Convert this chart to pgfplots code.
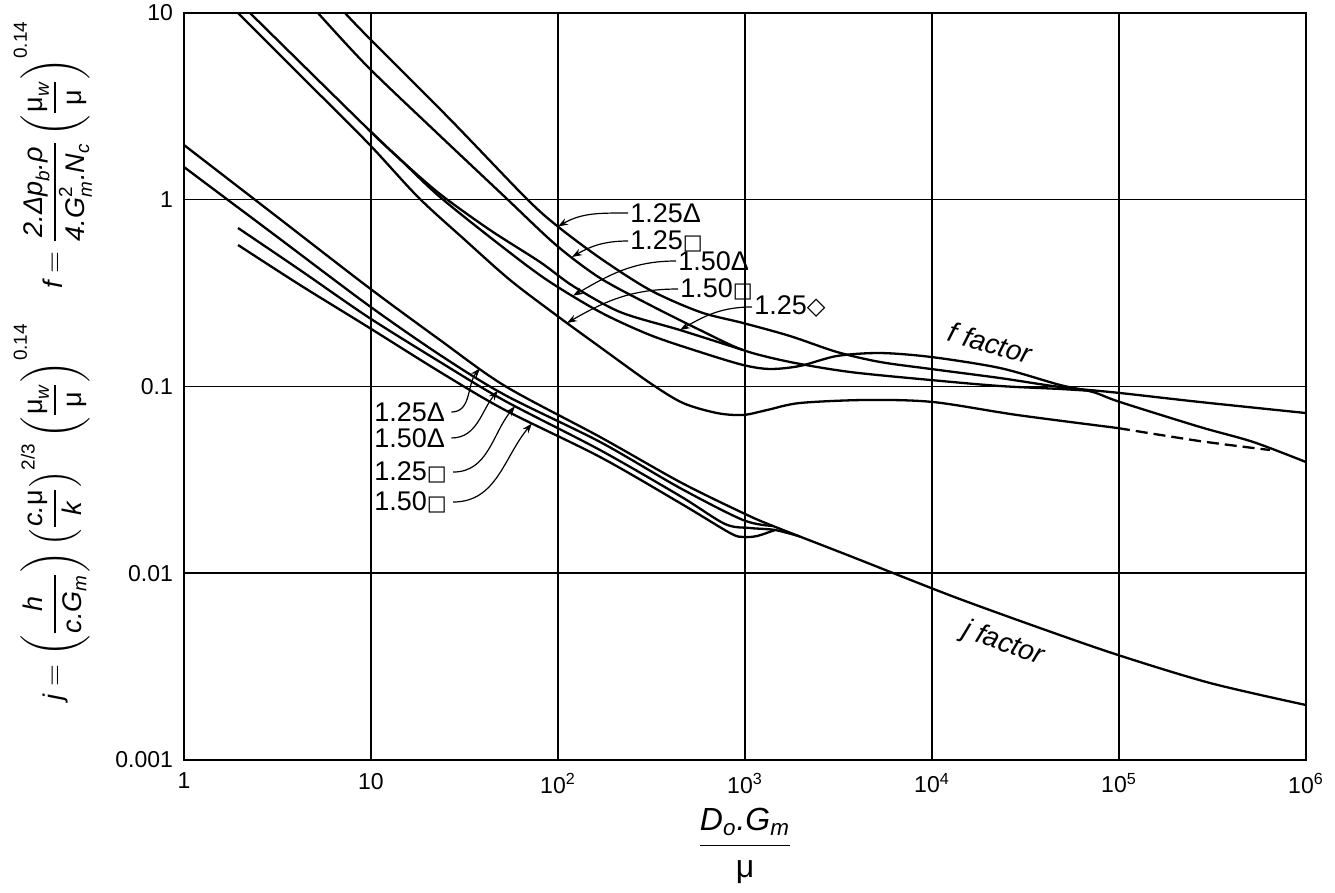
\documentclass[border=0pt]{standalone}
\usepackage{amsmath}
\usepackage{graphicx}
\usepackage{fontspec}
\setmainfont{Liberation Sans}
\newfontfamily\symfont{DejaVu Sans}
\usepackage{pgfplots}
\pgfplotsset{compat=1.18}
\usetikzlibrary{arrows.meta}
\newcommand{\ti}[1]{\textit{#1}}
\newcommand{\sq}{\scalebox{0.78}{\symfont □}}
\newcommand{\di}{\scalebox{0.9}{\symfont ◇}}
\newcommand{\tri}{Δ}
\begin{document}
\begin{tikzpicture}
\begin{axis}[
  xmode=log, ymode=log,
  scale only axis, width=561pt, height=373.5pt,
  xmin=1, xmax=1e6, ymin=1e-3, ymax=10,
  xtick={1,10,100,1000,10000,100000,1000000},
  xticklabels={1,10,10\textsuperscript{2},10\textsuperscript{3},10\textsuperscript{4},10\textsuperscript{5},10\textsuperscript{6}},
  ytick={0.001,0.01,0.1,1,10},
  yticklabels={0.001,0.01,0.1,1,10},
  xminorticks=false, yminorticks=false,
  major tick length=0pt,
  grid=major,
  major grid style={black, line width=0.75pt},
  axis line style={line width=0.9pt},
  tick label style={font=\fontsize{11.5}{13}\selectfont},
  xticklabel style={yshift=-3pt},
  yticklabel style={xshift=-2pt},
]
\pgfplotsset{every axis plot/.append style={line width=1.15pt, black, no markers}}
% ---- f curves ----
% P (1.25 triangle)
\addplot[smooth] coordinates {(7.26,10) (9.64,7.44) (26.45,2.70) (66.6,1.034) (97.6,0.732) (167.7,0.4876) (310.5,0.3286) (574.6,0.2506) (975.6,0.2188) (1740,0.1864) (3104,0.1530) (5272,0.1353) (9878,0.1241) (23100,0.1110) (48360,0.0994) (101200,0.0923) (271200,0.0826) (1000000,0.0721)};
% Q (1.25 square)
\addplot[smooth] coordinates {(5.207,10) (9.64,5.137) (23.39,2.20) (52.07,1.034) (97.6,0.5725) (167.7,0.3811) (310.5,0.2731) (574.6,0.2006) (975.6,0.1568) (1740,0.1353) (3643,0.1196) (9878,0.1083) (23100,0.1006) (48360,0.0970) (72600,0.0946)};
% R (1.50 triangle)
\addplot[smooth] coordinates {(2.254,10) (9.64,2.392) (14.29,1.649) (23.39,1.034) (48.96,0.5725) (87.3,0.3718) (167.7,0.2506) (310.5,0.1887) (574.6,0.1530) (975.6,0.1304) (1361,0.1241) (1968,0.1288) (3104,0.1457) (5272,0.1511) (9878,0.1439) (23100,0.1256) (48360,0.1019) (72600,0.0934) (101200,0.0826) (271200,0.0607) (520700,0.0505) (1000000,0.0394)};
% T (1.25 diamond)
\addplot[smooth] coordinates {(9.64,2.392) (14.29,1.649) (23.39,1.073) (43.29,0.6887) (80.1,0.4642) (120.3,0.3452) (214.6,0.2506) (449.2,0.2006) (975.6,0.1568)};
% S (1.50 square)
\addplot[smooth] coordinates {(1.945,10) (4.172,4.656) (9.64,2.013) (17.84,1.034) (31.82,0.6088) (55.4,0.3718) (97.6,0.2415) (167.7,0.1627) (310.5,0.1044) (466,0.0816) (708.6,0.0721) (975.6,0.0704) (1311,0.0748) (1968,0.0816) (4492,0.0847) (10120,0.0826) (28480,0.0704) (98780,0.0599)};
\addplot[smooth, dash pattern=on 6pt off 3pt] coordinates {(98780,0.0599) (271200,0.0510) (642000,0.0457)};
% ---- j curves ----
\addplot[smooth] coordinates {(1,1.964) (3.105,0.8185) (9.64,0.3409) (23.39,0.1774) (52.07,0.1006) (167.7,0.0537) (449.2,0.0308) (975.6,0.02102) (1411,0.01791) (3643,0.01237) (6185,0.01003) (13610,0.00737) (37800,0.005089) (98780,0.003650) (306700,0.002584) (1000000,0.00197)};
\addplot[smooth] coordinates {(1,1.497) (3.105,0.6397) (9.64,0.2731) (23.39,0.1475) (52.07,0.0900) (167.7,0.0505) (449.2,0.0286) (975.6,0.01928) (1411,0.01791)};
\addplot[smooth] coordinates {(1.945,0.706) (4.172,0.4205) (9.64,0.2356) (23.39,0.1353) (52.07,0.0837) (167.7,0.0457) (449.2,0.02593) (781.7,0.01836) (1063,0.01747) (1447,0.01705) (1968,0.01573)};
\addplot[smooth] coordinates {(1.945,0.5725) (4.172,0.3496) (9.64,0.2083) (23.39,0.1196) (52.07,0.0748) (167.7,0.04195) (449.2,0.02378) (831.3,0.01643) (975.6,0.01564) (1159.6,0.01583) (1447,0.01705)};
% ---- labels f ----
\begin{scope}[every node/.style={font=\fontsize{13.5}{15}\selectfont, inner sep=1pt}, arr/.style={line width=0.6pt, -{Stealth[length=5pt,width=3.5pt]}}]
\node[anchor=west] (fa) at (axis cs:236.8,0.849) {1.25\tri};
\node[anchor=west] (fb) at (axis cs:236.8,0.6013) {1.25\sq};
\node[anchor=west] (fc) at (axis cs:427.6,0.4699) {1.50\tri};
\node[anchor=west] (fd) at (axis cs:438.3,0.3327) {1.50\sq};
\node[anchor=west] (fe) at (axis cs:1090,0.2665) {1.25\di};
\draw[arr] (fa.west) to[out=180,in=30] (axis cs:100,0.719);
\draw[arr] (fb.west) to[out=180,in=30] (axis cs:118.8,0.4937);
\draw[arr] (fc.west) to[out=180,in=30] (axis cs:120.3,0.3063);
\draw[arr] (fd.west) to[out=180,in=30] (axis cs:111.7,0.2188);
\draw[arr] (fe.west) to[out=180,in=30] (axis cs:449.2,0.2006);
% ---- labels j ----
\node[anchor=west] (ja) at (axis cs:10.12,0.0730) {1.25\tri};
\node[anchor=west] (jb) at (axis cs:10.12,0.0530) {1.50\tri};
\node[anchor=west] (jc) at (axis cs:10.12,0.03484) {1.25\sq};
\node[anchor=west] (jd) at (axis cs:10.12,0.02407) {1.50\sq};
\draw[arr] ([xshift=2pt]ja.east) to[out=0,in=230] (axis cs:38.28,0.1252);
\draw[arr] ([xshift=2pt]jb.east) to[out=0,in=230] (axis cs:47.77,0.0950);
\draw[arr] ([xshift=2pt]jc.east) to[out=0,in=230] (axis cs:58.9,0.0784);
\draw[arr] ([xshift=2pt]jd.east) to[out=0,in=230] (axis cs:72.6,0.0634);
\node[rotate=-16, font=\fontsize{14}{16}\selectfont\itshape] at (axis cs:20420,0.171) {f factor};
\node[rotate=-20, font=\fontsize{14}{16}\selectfont\itshape] at (axis cs:23970,0.00418) {j factor};
\end{scope}
\coordinate (SW) at (rel axis cs:0,0);
\coordinate (NE) at (rel axis cs:1,1);
\coordinate (YF) at (rel axis cs:-0.117,0.81);
\coordinate (YJ) at (rel axis cs:-0.118,0.332);
\coordinate (XL) at (rel axis cs:0.5,-0.115);
\end{axis}
\node[rotate=90, font=\fontsize{13.5}{16}\selectfont, inner sep=0pt] at (YF) {$\displaystyle \ti{f} = \frac{\ti{2.Δp}_{\ti{b}}\ti{.ρ}}{\ti{4.G}^{\textup{2}}_{\ti{m}}\ti{.N}_{\ti{c}}}\left(\frac{\textup{μ}_{\ti{w}}}{\textup{μ}}\right)^{\textup{0.14}}$};
\node[rotate=90, font=\fontsize{13.5}{16}\selectfont, inner sep=0pt] at (YJ) {$\displaystyle \ti{j} = \left(\frac{\ti{h}}{\ti{c.G}_{\ti{m}}}\right)\left(\frac{\ti{c.}\textup{μ}}{\ti{k}}\right)^{\textup{2/3}}\left(\frac{\textup{μ}_{\ti{w}}}{\textup{μ}}\right)^{\textup{0.14}}$};
\node[font=\fontsize{16}{18}\selectfont, inner sep=0pt] at (XL) {$\displaystyle \frac{\ti{D}_{\ti{o}}\ti{.G}_{\ti{m}}}{\textup{μ}}$};
\pgfresetboundingbox
\path ([xshift=-92pt,yshift=-66.5pt]SW) rectangle ([xshift=14.5pt,yshift=6.5pt]NE);
\end{tikzpicture}
\end{document}
